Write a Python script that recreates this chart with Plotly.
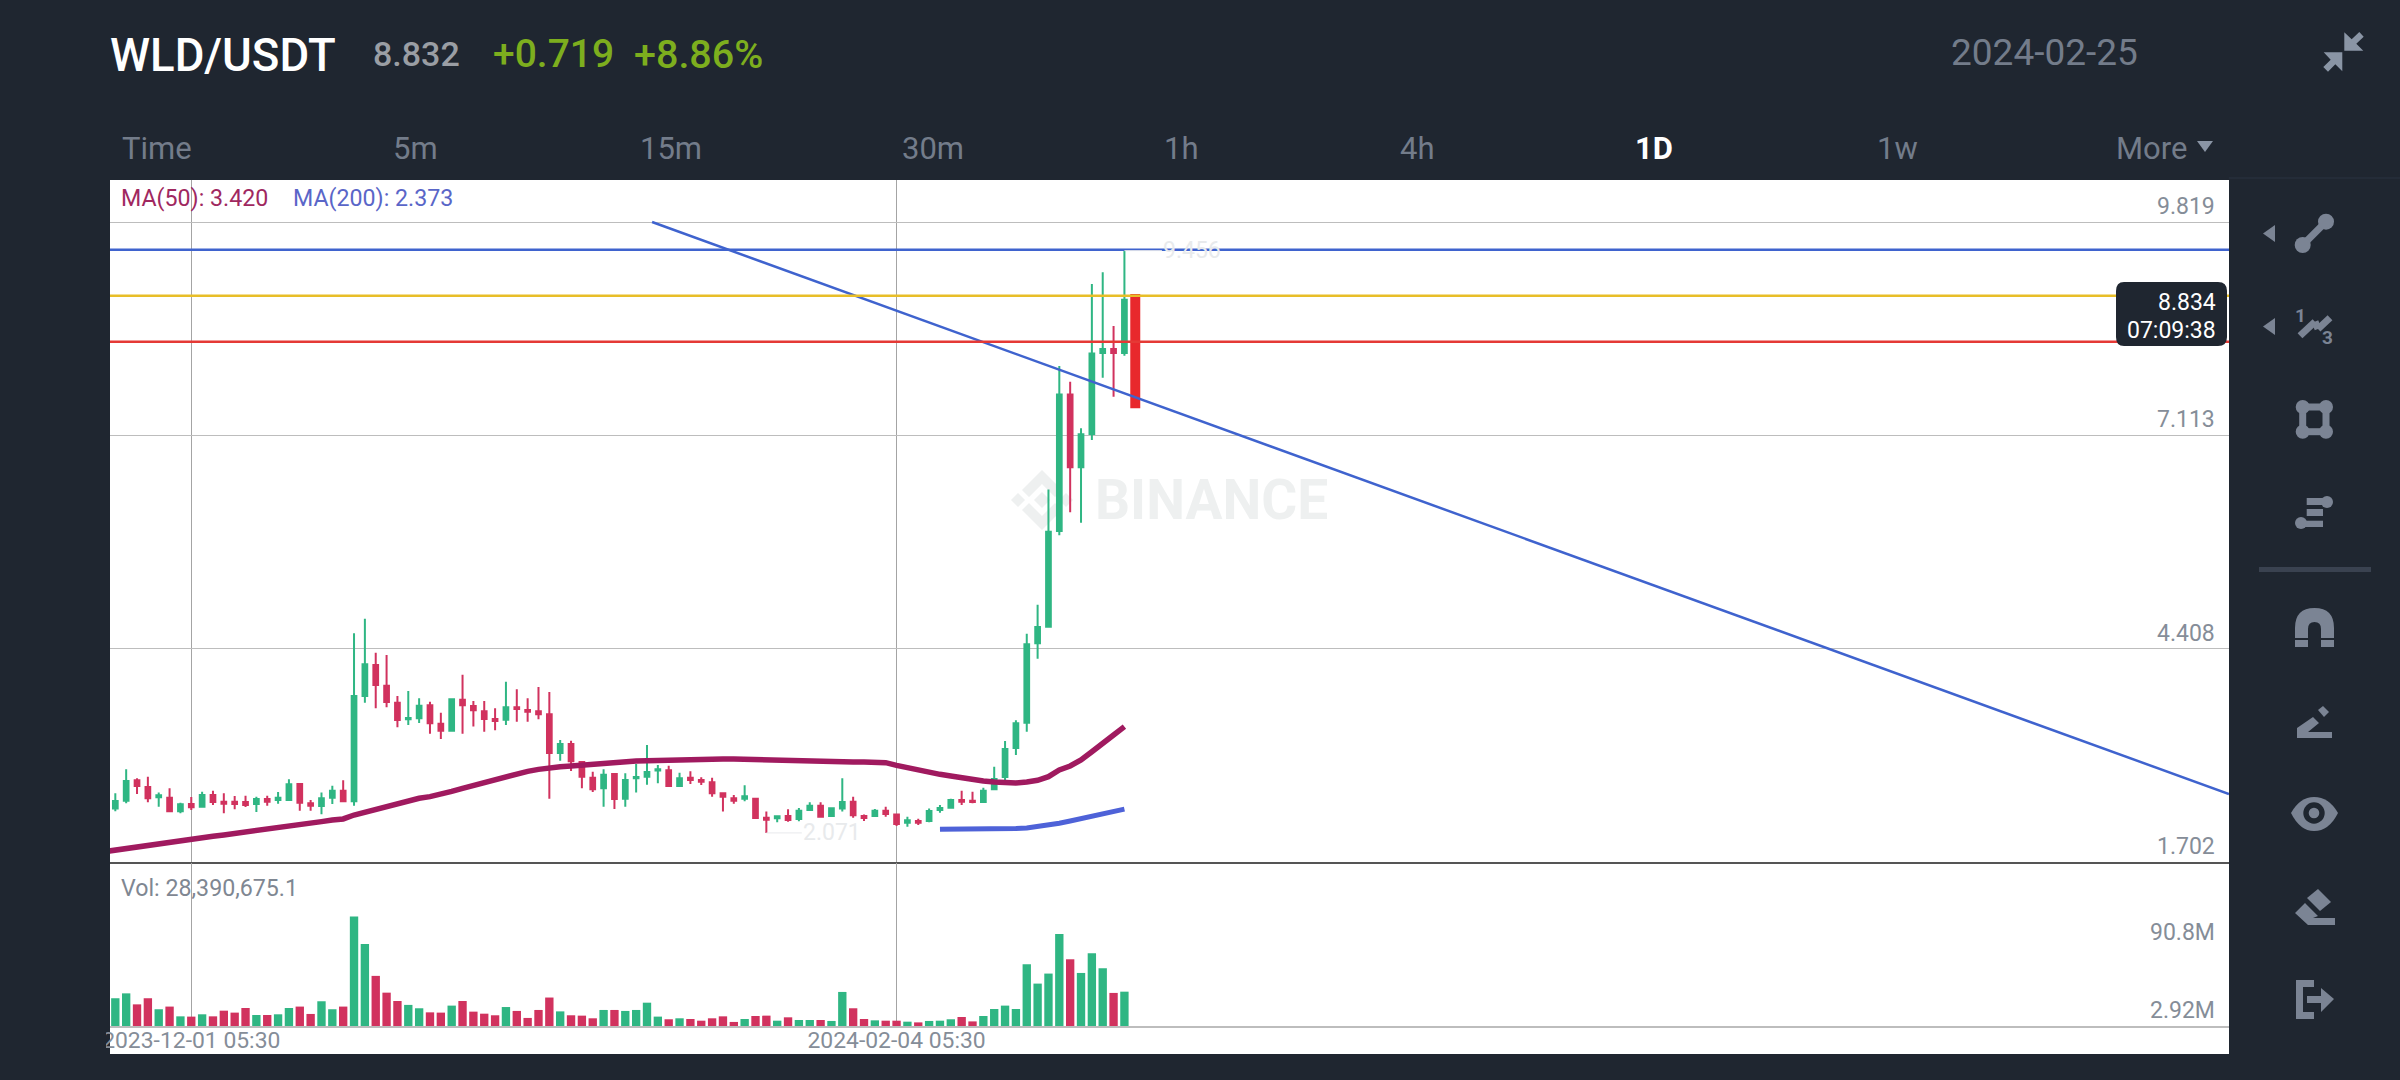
import re

import pandas as pd
import plotly.graph_objects as go

WIDTH, HEIGHT = 2400, 1080

opens = [
    2.379, 2.480, 2.738, 2.653, 2.522, 2.518, 2.345, 2.438, 2.404, 2.552,
    2.467, 2.467, 2.463, 2.438, 2.501, 2.489, 2.489, 2.691, 2.446, 2.412,
    2.518, 2.607, 2.472, 3.808, 4.201, 3.939, 3.723, 3.512, 3.524, 3.689,
    3.457, 3.368, 3.761, 3.681, 3.613, 3.516, 3.507, 3.664, 3.630, 3.613,
    3.575, 3.085, 3.199, 2.970, 2.772, 2.637, 2.818, 2.505, 2.763, 2.784,
    2.861, 2.865, 2.666, 2.772, 2.742, 2.713, 2.573, 2.510, 2.505, 2.505,
    2.264, 2.256, 2.286, 2.248, 2.362, 2.417, 2.286, 2.379, 2.467, 2.286,
    2.286, 2.353, 2.303, 2.201, 2.222, 2.222, 2.362, 2.391, 2.489, 2.480,
    2.463, 2.624, 2.780, 3.148, 3.469, 4.475, 4.687, 5.900, 7.633, 6.708,
    7.130, 8.158, 8.208, 8.158,
]
closes = [
    2.476, 2.730, 2.666, 2.510, 2.548, 2.345, 2.434, 2.396, 2.552, 2.463,
    2.442, 2.438, 2.425, 2.501, 2.467, 2.518, 2.687, 2.455, 2.417, 2.510,
    2.607, 2.472, 3.808, 4.209, 3.947, 3.731, 3.503, 3.528, 3.685, 3.461,
    3.368, 3.765, 3.689, 3.626, 3.516, 3.490, 3.664, 3.643, 3.609, 3.575,
    3.085, 3.199, 2.979, 2.784, 2.624, 2.810, 2.501, 2.742, 2.780, 2.844,
    2.877, 2.666, 2.763, 2.742, 2.721, 2.573, 2.531, 2.480, 2.535, 2.260,
    2.239, 2.281, 2.235, 2.353, 2.417, 2.277, 2.383, 2.463, 2.294, 2.260,
    2.353, 2.311, 2.184, 2.231, 2.201, 2.349, 2.387, 2.489, 2.467, 2.463,
    2.607, 2.755, 3.135, 3.461, 4.463, 4.683, 5.892, 7.633, 6.708, 7.126,
    8.153, 8.208, 8.158, 8.834,
]
highs = [
    2.573, 2.877, 2.763, 2.784, 2.582, 2.637, 2.455, 2.527, 2.594, 2.607,
    2.573, 2.539, 2.543, 2.531, 2.543, 2.590, 2.751, 2.704, 2.489, 2.582,
    2.670, 2.738, 4.602, 4.788, 4.357, 4.327, 3.808, 3.871, 3.778, 3.736,
    3.596, 3.774, 4.078, 3.744, 3.744, 3.651, 3.989, 3.892, 3.778, 3.922,
    3.858, 3.249, 3.241, 2.979, 2.848, 2.877, 2.827, 2.827, 2.945, 3.186,
    2.932, 2.924, 2.835, 2.852, 2.776, 2.772, 2.582, 2.552, 2.675, 2.518,
    2.341, 2.286, 2.370, 2.387, 2.459, 2.459, 2.396, 2.763, 2.531, 2.303,
    2.374, 2.404, 2.311, 2.277, 2.252, 2.379, 2.425, 2.505, 2.607, 2.594,
    2.645, 2.911, 3.237, 3.499, 4.598, 4.966, 6.428, 7.993, 7.794, 7.202,
    9.033, 9.181, 8.500, 9.456,
]
lows = [
    2.345, 2.446, 2.565, 2.459, 2.404, 2.332, 2.319, 2.362, 2.404, 2.425,
    2.319, 2.370, 2.400, 2.336, 2.417, 2.442, 2.480, 2.353, 2.353, 2.307,
    2.438, 2.467, 2.417, 3.723, 3.651, 3.664, 3.410, 3.440, 3.465, 3.330,
    3.262, 3.364, 3.330, 3.419, 3.355, 3.372, 3.440, 3.482, 3.482, 3.512,
    2.505, 2.987, 2.856, 2.637, 2.590, 2.404, 2.374, 2.404, 2.582, 2.683,
    2.700, 2.666, 2.666, 2.691, 2.679, 2.531, 2.341, 2.442, 2.472, 2.252,
    2.071, 2.205, 2.214, 2.218, 2.349, 2.264, 2.273, 2.341, 2.264, 2.222,
    2.277, 2.277, 2.159, 2.150, 2.171, 2.205, 2.328, 2.383, 2.425, 2.446,
    2.463, 2.615, 2.729, 3.059, 3.355, 4.281, 4.687, 5.845, 6.137, 6.006,
    7.054, 7.845, 7.604, 8.124,
]
volumes = [
    34.2, 39.7, 27.3, 34.2, 21.8, 24.8, 13.8, 13.5, 16.1, 13.8,
    20.2, 18.0, 23.2, 15.3, 15.3, 16.1, 23.2, 24.8, 16.5, 30.8,
    21.8, 24.8, 126.3, 95.4, 59.4, 40.5, 31.1, 26.7, 22.9, 18.3,
    18.0, 25.9, 31.1, 19.1, 16.8, 15.0, 24.3, 19.9, 12.0, 21.0,
    35.0, 19.4, 15.0, 14.6, 11.6, 21.0, 21.0, 19.9, 21.0, 29.2,
    13.5, 10.5, 11.6, 10.8, 8.9, 11.6, 13.8, 7.5, 10.8, 14.2,
    14.6, 8.9, 12.7, 9.7, 9.7, 9.7, 8.6, 41.3, 22.9, 10.8,
    9.3, 8.9, 8.9, 7.8, 7.0, 8.6, 8.9, 10.5, 13.1, 8.1,
    14.2, 22.1, 25.9, 22.1, 72.5, 50.7, 62.0, 106.7, 78.1, 62.7,
    84.9, 68.0, 40.2, 41.6,
]
# starts one day before the first candle, runs off the left edge
ma50 = [
    1.833, 1.854, 1.876, 1.892, 1.914, 1.931, 1.952, 1.969, 1.990, 2.007,
    2.028, 2.045, 2.062, 2.078, 2.100, 2.117, 2.138, 2.159, 2.176, 2.193,
    2.214, 2.235, 2.248, 2.298, 2.336, 2.370, 2.404, 2.442, 2.476, 2.510,
    2.531, 2.556, 2.598, 2.637, 2.675, 2.704, 2.738, 2.776, 2.814, 2.852,
    2.877, 2.899, 2.911, 2.920, 2.932, 2.949, 2.958, 2.962, 2.975, 2.983,
    2.987, 2.992, 2.996, 2.996, 3.000, 3.004, 3.009, 3.009, 3.009, 3.004,
    3.000, 2.996, 2.992, 2.987, 2.987, 2.983, 2.979, 2.979, 2.975, 2.970,
    2.970, 2.966, 2.962, 2.928, 2.899, 2.861, 2.835, 2.814, 2.793, 2.768,
    2.751, 2.729, 2.717, 2.704, 2.704, 2.717, 2.738, 2.784, 2.869, 2.920,
    2.996, 3.101, 3.216, 3.313, 3.420,
]
# only the tail of the MA(200) is drawn, from 2024-02-08 on
ma200 = [
    2.117, 2.117, 2.117, 2.118, 2.119, 2.121, 2.123, 2.127, 2.134, 2.150,
    2.171, 2.194, 2.222, 2.252, 2.281, 2.311, 2.342, 2.373,
]

dates = pd.date_range("2023-11-24 05:30", periods=len(opens), freq="D")
ma50_dates = pd.date_range("2023-11-23 05:30", periods=len(ma50), freq="D")
ma200_dates = dates[-len(ma200):]

price_ticks = [9.819, 7.113, 4.408, 1.702]
volume_ticks = [90.8, 2.92]
date_ticks = ["2023-12-01 05:30", "2024-02-04 05:30"]

x_range = ["2023-11-23 17:44", "2024-06-06 00:42"]
price_range = [1.702, 10.352]
volume_range = [2.92, 186.6]

# drawn objects on top of the candles
trend_x = ["2024-01-12 16:45", "2024-06-06 00:42"]
trend_y = [9.819, 2.564]
level_blue = 9.467
level_yellow = 8.884
level_red = 8.300
box_x = "2024-02-26 05:30"
box_top = 8.905
box_bottom = 7.456

GREEN = "#2FB683"
RED = "#D1325E"
DARK = "#1F2630"
GREY_TEXT = "#858D98"
ICON = "#7B8494"
TAB = "#737C8A"
FONT = "Roboto"


def px_x(x):
    return x / WIDTH


def px_y(y):
    return 1 - y / HEIGHT


def px_path(d):
    # svg path given in screen pixels -> paper coordinates
    parts = re.findall(r"[A-Za-z]|-?[\d.]+", d)
    out, is_x = [], True
    for part in parts:
        if part.isalpha():
            out.append(part)
            is_x = True
        else:
            out.append(str(px_x(float(part)) if is_x else px_y(float(part))))
            is_x = not is_x
    return " ".join(out)


figure = go.Figure()


def icon(d, color=ICON, layer="above"):
    figure.add_shape(
        type="path", path=px_path(d), xref="paper", yref="paper",
        fillcolor=color, line_width=0, layer=layer,
    )


def dot(x, y, r, color=ICON):
    figure.add_shape(
        type="circle", xref="paper", yref="paper",
        x0=px_x(x - r), x1=px_x(x + r), y0=px_y(y + r), y1=px_y(y - r),
        fillcolor=color, line_width=0,
    )


def bar(x0, y0, x1, y1, width, color=ICON):
    figure.add_shape(
        type="line", xref="paper", yref="paper",
        x0=px_x(x0), x1=px_x(x1), y0=px_y(y0), y1=px_y(y1),
        line=dict(color=color, width=width),
    )


def label(text, x, y, size, color, anchor="left", valign="middle", weight=400, yshift=0):
    figure.add_annotation(
        text=text, x=px_x(x), y=px_y(y), xref="paper", yref="paper",
        xanchor=anchor, yanchor=valign, showarrow=False, yshift=yshift,
        font=dict(family=FONT, size=size, color=color, weight=weight),
    )


# white chart area, watermark logo sits on it
icon("M110 180 L2229 180 L2229 1054 L110 1054 Z", "#FFFFFF", "below")
WATERMARK = "#EEF0F0"
for d in [
    "M1042 470 L1062 490 L1055 497 L1042 484 L1029 497 L1022 490 Z",
    "M1042 530 L1062 510 L1055 503 L1042 516 L1029 503 L1022 510 Z",
    "M1042 492 L1050 500 L1042 508 L1034 500 Z",
    "M1018 493 L1025 500 L1018 507 L1011 500 Z",
    "M1066 493 L1073 500 L1066 507 L1059 500 Z",
]:
    icon(d, WATERMARK, "below")

figure.add_trace(
    go.Candlestick(
        x=dates, open=opens, high=highs, low=lows, close=closes,
        increasing=dict(line=dict(color=GREEN, width=2), fillcolor=GREEN),
        decreasing=dict(line=dict(color=RED, width=2), fillcolor=RED),
        whiskerwidth=0, xaxis="x", yaxis="y",
    )
)
figure.add_trace(
    go.Scatter(
        x=ma50_dates, y=ma50, mode="lines", xaxis="x", yaxis="y",
        line=dict(color="#A01A5F", width=5.5),
    )
)
figure.add_trace(
    go.Scatter(
        x=ma200_dates, y=ma200, mode="lines", xaxis="x", yaxis="y",
        line=dict(color="#4E62D8", width=5),
    )
)
figure.add_trace(
    go.Scatter(
        x=trend_x, y=trend_y, mode="lines", xaxis="x", yaxis="y",
        line=dict(color="#3F63CE", width=2.5),
    )
)
for level, color in [(level_blue, "#3F63CE"), (level_yellow, "#E8BE28"), (level_red, "#E53935")]:
    figure.add_trace(
        go.Scatter(
            x=x_range, y=[level, level], mode="lines", xaxis="x", yaxis="y",
            line=dict(color=color, width=2.5),
        )
    )
figure.add_trace(
    go.Bar(
        x=[box_x], y=[box_top - box_bottom], base=[box_bottom],
        width=[0.92 * 86400000], marker=dict(color="#E8282C", line_width=0),
        xaxis="x", yaxis="y",
    )
)
volume_colors = [GREEN if c >= o else RED for o, c in zip(opens, closes)]
figure.add_trace(
    go.Bar(
        x=dates, y=volumes, marker=dict(color=volume_colors, line_width=0),
        xaxis="x2", yaxis="y2",
    )
)

# header
label("WLD/USDT", 108, 55, 45.5, "#FFFFFF", weight=500)
label("8.832", 371, 54, 34, "#9A9EA4", weight=500)
label("+0.719", 491, 54, 39, "#7DAE1E", weight=500)
label("+8.86%", 632, 54, 39.5, "#7DAE1E", weight=500)
label("2024-02-25", 2140, 52, 37, TAB, anchor="right")

for text, x in [("Time", 157), ("5m", 415), ("15m", 671), ("30m", 933),
                ("1h", 1181), ("4h", 1417), ("1w", 1897), ("More", 2151)]:
    label(text, x, 148, 31, TAB, anchor="center")
label("1D", 1654, 148, 31, "#FFFFFF", anchor="center", weight=700)
icon("M2197 141 L2213 141 L2205 152 Z", "#8A95A5")
icon("M2344.3 32.3 L2351.7 39.3 L2359.3 32 L2363.7 36.7 L2356.3 43.7 L2363.3 50.7 L2344.3 50.7 Z", "#8A95A5")
icon("M2342.3 52.3 L2342.3 71.3 L2335.3 64.3 L2328 71.7 L2323.3 67 L2330.7 59.7 L2323.7 52.3 Z", "#8A95A5")

# chart labels
label("MA(50): 3.420", 119, 198, 23.2, "#A0285F")
label("MA(200): 2.373", 291, 198, 23.2, "#5A66C8")
label("Vol: 28,390,675.1", 119, 888, 23.2, "#7F8792")
for tick in price_ticks:
    figure.add_annotation(
        text=f"{tick:.3f}", x=px_x(2217), y=tick, xref="paper", yref="y",
        xanchor="right", yanchor="bottom", showarrow=False, yshift=0,
        font=dict(family=FONT, size=23, color=GREY_TEXT),
    )
for tick in volume_ticks:
    figure.add_annotation(
        text=f"{tick:.1f}M" if tick > 10 else f"{tick:.2f}M", x=px_x(2217), y=tick,
        xref="paper", yref="y2", xanchor="right", yanchor="bottom", showarrow=False,
        yshift=0, font=dict(family=FONT, size=23, color=GREY_TEXT),
    )
figure.add_annotation(
    text="BINANCE", x=px_x(1211), y=px_y(500), xref="paper", yref="paper",
    showarrow=False, font=dict(family=FONT, size=55, color=WATERMARK, weight=700),
)

# faint high / low markers
figure.add_annotation(
    text=f"{min(lows):.3f}", x=dates[lows.index(min(lows))], y=min(lows), xref="x", yref="y",
    ax=66, ay=0, arrowcolor="#E8EAEC", arrowwidth=1, arrowhead=0, standoff=0,
    font=dict(family=FONT, size=23, color="#E8EAEC"),
)
figure.add_annotation(
    text=f"{max(highs):.3f}", x=dates[highs.index(max(highs))], y=max(highs), xref="x", yref="y",
    ax=68, ay=0, arrowcolor="#E8EAEC", arrowwidth=1, arrowhead=0, standoff=0,
    font=dict(family=FONT, size=23, color="#E8EAEC"),
)

# price tag
figure.add_shape(
    type="path", xref="paper", yref="paper", fillcolor=DARK, line_width=0,
    path=px_path(
        "M2124 282 L2218 282 Q2227 282 2227 291 L2227 337 Q2227 346 2218 346 "
        "L2124 346 Q2116 346 2116 337 L2116 291 Q2116 282 2124 282 Z"
    ),
)
label("8.834", 2218, 302, 23, "#FFFFFF", anchor="right")
label("07:09:38", 2218, 330, 23, "#FFFFFF", anchor="right")

# the first date label is cut off at the edge of the panel
icon("M96 1027 L106 1027 L106 1053 L96 1053 Z", DARK)

# toolbar on the right
bar(2229, 178, 2400, 178, 1, "#2B3340")
icon("M2275 225 L2275 242 L2263 233.5 Z")
bar(2302.7, 245, 2326, 221.7, 7)
dot(2302.7, 245, 8)
dot(2326, 221.7, 8)

icon("M2275 318 L2275 335 L2263 326.5 Z")
bar(2300, 335.7, 2315, 321.7, 7)
bar(2315, 321.7, 2318, 329, 7)
bar(2318, 329, 2330, 317.7, 7)
label("1", 2300, 315, 19, ICON, anchor="center", weight=700)
label("3", 2327, 338, 19, ICON, anchor="center", weight=700)

bar(2302.7, 407, 2326, 407, 7)
bar(2302.7, 431.7, 2326, 431.7, 7)
bar(2302.7, 407, 2302.7, 431.7, 7)
bar(2326, 407, 2326, 431.7, 7)
for cx, cy in [(2302.7, 407), (2326, 407), (2302.7, 431.7), (2326, 431.7)]:
    dot(cx, cy, 7)

icon("M2306.7 498 L2326 498 L2326 505 L2306.7 505 Z")
dot(2327, 502, 6)
icon("M2306.7 509 L2323 509 L2323 516 L2306.7 516 Z")
icon("M2302 520.7 L2323 520.7 L2323 527 L2302 527 Z")
dot(2301, 523, 6)

bar(2259, 569.5, 2371, 569.5, 5, "#3A4250")

icon(
    "M2295 638 L2295 628 Q2295 608 2314.5 608 Q2334 608 2334 628 L2334 638 L2321 638 "
    "L2321 629 Q2321 622 2314.5 622 Q2308 622 2308 629 L2308 638 Z"
)
icon("M2295 640 L2308 640 L2308 647 L2295 647 Z")
icon("M2321 640 L2334 640 L2334 647 L2321 647 Z")

icon("M2297 738 L2297 728 L2313 717 L2319 723 L2308 732 L2332 732 L2332 738 Z")
icon("M2318 710 L2323 706 L2329 712 L2324 717 Z")

icon("M2291 813 Q2300 797 2314 797 Q2329 797 2338 813 Q2329 831 2314 831 Q2300 831 2291 813 Z")
dot(2314, 813, 10.7, DARK)
dot(2314, 813, 5.3)

icon("M2318 889 L2331 902 L2320 911 L2307 898 Z")
icon("M2295 913 L2305 903 L2318 916 L2313 918 L2335 918 L2335 925 L2308 925 Z")

icon("M2296 980 L2314 980 L2314 987 L2303 987 L2303 1012 L2314 1012 L2314 1019 L2296 1019 Z")
icon("M2307 996 L2321 996 L2321 988 L2334 999 L2321 1012 L2321 1003 L2307 1003 Z")

x_common = dict(
    type="date",
    range=x_range,
    tickmode="array",
    tickvals=date_ticks,
    showgrid=True,
    gridcolor="#A4A4A4",
    gridwidth=1,
    zeroline=False,
    rangeslider_visible=False,
    ticks="",
)

figure.update_layout(
    width=WIDTH,
    height=HEIGHT,
    margin=dict(l=0, r=0, t=0, b=0, autoexpand=False),
    paper_bgcolor=DARK,
    plot_bgcolor="#FFFFFF",
    showlegend=False,
    boxgap=0.38,
    bargap=0.23,
    xaxis=dict(
        domain=[px_x(110), px_x(2229)], anchor="y", showticklabels=False,
        showline=True, linecolor="#555555", linewidth=2, **x_common,
    ),
    xaxis2=dict(
        domain=[px_x(110), px_x(2229)], anchor="y2", matches="x",
        showticklabels=True, tickformat="%Y-%m-%d %H:%M", ticklabelstandoff=-7,
        tickfont=dict(family=FONT, size=22.9, color=GREY_TEXT),
        showline=True, linecolor="#BDBDBD", linewidth=2, **x_common,
    ),
    yaxis=dict(
        domain=[px_y(862), px_y(180)], range=price_range, anchor="x",
        tickmode="array", tickvals=price_ticks, showticklabels=False, ticks="",
        showgrid=True, gridcolor="#BDBDBD", gridwidth=1.2, zeroline=False,
    ),
    yaxis2=dict(
        domain=[px_y(1026), px_y(863)], range=volume_range, anchor="x2",
        showticklabels=False, ticks="", showgrid=False, zeroline=False,
    ),
)

figure.write_html(
    "out.html",
    config={"displayModeBar": False},
    post_script="document.body.style.margin = '0';",
)
